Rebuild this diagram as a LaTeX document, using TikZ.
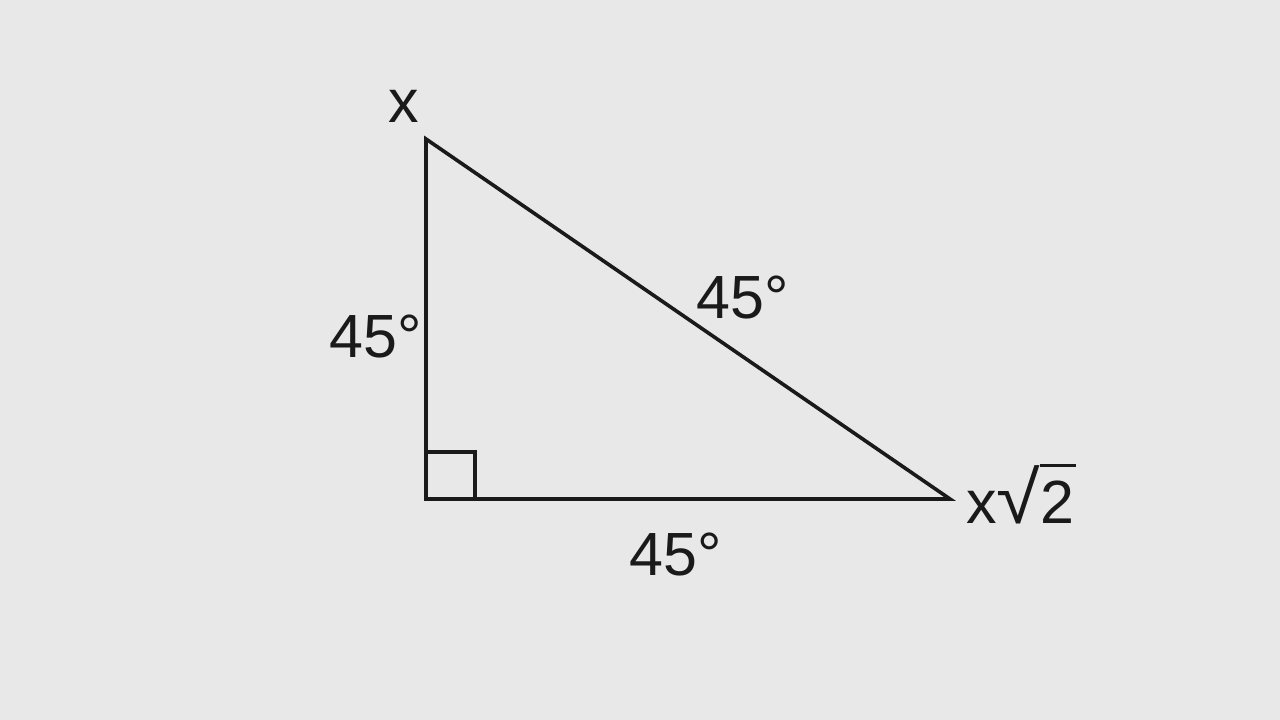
\documentclass[tikz,border=0pt]{standalone}
\usepackage{fontspec}
\setmainfont{Liberation Sans}
\definecolor{bg}{HTML}{E8E8E8}
\definecolor{ink}{HTML}{1A1A1A}
\begin{document}
\begin{tikzpicture}[x=1pt,y=-1pt,
  lbl/.style={anchor=base west,inner sep=0pt,text=ink,font=\fontsize{61}{70}\selectfont},
  edge/.style={draw=ink,line width=3.6pt}]
\fill[bg] (0,0) rectangle (1280,720);
\useasboundingbox (0,0) rectangle (1280,720);
\coordinate (A) at (426,139);
\coordinate (B) at (426,499);
\coordinate (C) at (950,499);
\draw[edge] (A) -- (B) -- (C) -- cycle;
\coordinate (S1) at (426,452);
\coordinate (S2) at (475,452);
\coordinate (S3) at (475,499);
\draw[edge,line width=3.2pt] (S1) -- (S2) -- (S3);
\node[lbl] (tx) at (388,122) {x};
\node[lbl] (la) at (329,357) {45°};
\node[lbl] (ha) at (696,318) {45°};
\node[lbl] (ba) at (629,575) {45°};
\node[lbl] (rx) at (966,523) {x\scalebox{1.3}[1.2]{√}\rlap{\color{ink}\rule[56pt]{36pt}{3pt}}2};
\end{tikzpicture}
\end{document}
